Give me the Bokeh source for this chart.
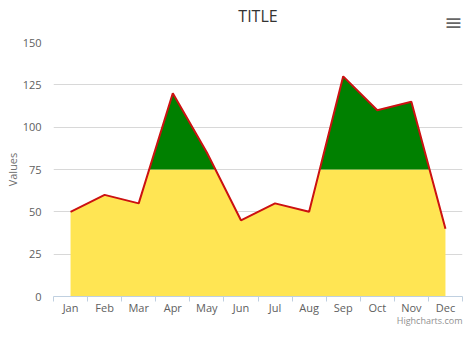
from bokeh.plotting import figure
from bokeh.models import Range1d, FixedTicker, Label
from bokeh.embed import file_html
from bokeh.resources import INLINE

# ---- data ----
months = ["Jan", "Feb", "Mar", "Apr", "May", "Jun", "Jul", "Aug", "Sep", "Oct", "Nov", "Dec"]
values = [50, 60, 55, 120, 85, 45, 55, 50, 130, 110, 115, 40]
threshold = 75
y_ticks = [0, 25, 50, 75, 100, 125, 150]
chart_title = "TITLE"
y_title = "Values"
credit_text = "Highcharts.com"

FONT = "Open Sans"
YELLOW = "#FFE553"
GREEN = "#008000"
RED = "#CC1111"

xs = list(range(len(values)))

# insert the threshold crossings so the two zones meet exactly on the line
px, py = [], []
for i, v in enumerate(values):
    if i > 0:
        a, b = values[i - 1], v
        if (a - threshold) * (b - threshold) < 0:
            t = (threshold - a) / (b - a)
            px.append(i - 1 + t)
            py.append(threshold)
    px.append(i)
    py.append(v)
low = [min(v, threshold) for v in py]
high = [max(v, threshold) for v in py]

p = figure(width=474, height=353, output_backend="svg", toolbar_location=None,
           x_range=Range1d(-0.5, len(months) - 0.5), y_range=Range1d(0, 150),
           min_border_left=53, min_border_right=12, min_border_top=42, min_border_bottom=57)
p.outline_line_color = None

p.title.text = chart_title
p.title.align = "center"
p.title.standoff = -18
p.title.text_font = FONT
p.title.text_font_size = "16px"
p.title.text_font_style = "normal"
p.title.text_color = "#333333"

p.varea(x=px, y1=0, y2=low, fill_color=YELLOW)
p.varea(x=px, y1=threshold, y2=high, fill_color=GREEN)
p.line(x=xs, y=values, line_color=RED, line_width=2)

# x axis: labels at category centres, ticks on category boundaries
xa = p.xaxis[0]
xa.ticker = FixedTicker(ticks=xs, minor_ticks=[i - 0.5 for i in range(len(months) + 1)])
xa.major_label_overrides = {i: m for i, m in enumerate(months)}
xa.major_tick_line_color = None
xa.major_tick_out = 0
xa.major_tick_in = 0
xa.minor_tick_line_color = "#C0D0E0"
xa.minor_tick_out = 5
xa.minor_tick_in = 0
xa.axis_line_color = "#C0D0E0"
xa.major_label_standoff = -2
xa.major_label_text_font = FONT
xa.major_label_text_font_size = "11px"
xa.major_label_text_color = "#606060"
p.xgrid.grid_line_color = None

ya = p.yaxis[0]
ya.ticker = FixedTicker(ticks=y_ticks)
ya.axis_line_color = None
ya.major_tick_line_color = None
ya.minor_tick_line_color = None
ya.major_tick_out = 0
ya.major_label_standoff = 12
ya.major_label_text_font = FONT
ya.major_label_text_font_size = "11px"
ya.major_label_text_color = "#606060"
ya.axis_label = y_title
ya.axis_label_standoff = 0
ya.axis_label_text_font = FONT
ya.axis_label_text_font_size = "11px"
ya.axis_label_text_font_style = "normal"
ya.axis_label_text_color = "#707070"
p.ygrid.grid_line_color = "#D8D8D8"

# export-menu icon (top right) and credits (bottom right)
p.add_layout(Label(x=400, y=20, x_units="screen", y_units="screen", text="\u2261",
                   text_align="center", text_baseline="middle",
                   text_font="DejaVu Sans", text_font_size="22px", text_color="#666666"), "above")
p.add_layout(Label(x=409, y=10, x_units="screen", y_units="screen", text=credit_text,
                   text_align="right", text_baseline="middle",
                   text_font=FONT, text_font_size="9px", text_color="#909090"), "below")

open("out.html", "w").write(file_html(p, INLINE))
